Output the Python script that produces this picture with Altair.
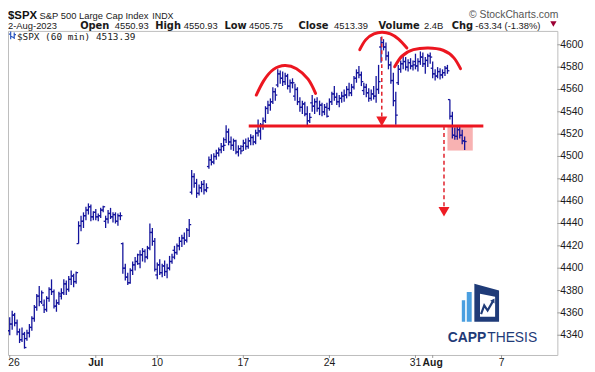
import altair as alt
import pandas as pd

# ---------------- data: $SPX hourly bars, 26-Jun-2023 .. 2-Aug-2023 ----------------
opens = [
    4344, 4350, 4358, 4351, 4343, 4336, 4341,   # Jun 26
    4337, 4342, 4347, 4355, 4365, 4375, 4370,   # Jun 27
    4367, 4363, 4373, 4381, 4379, 4366, 4369,   # Jun 28
    4375, 4378, 4386, 4381, 4390, 4393, 4388,   # Jun 29
    4422, 4438, 4442, 4447, 4452, 4455, 4446,   # Jun 30
    4450, 4446, 4447, 4452,                     # Jul 3
    4442, 4444, 4449, 4446, 4448, 4442, 4447,   # Jul 5
    4422, 4400, 4392, 4387, 4398, 4403, 4406,   # Jul 6
    4404, 4412, 4415, 4410, 4418, 4432, 4424,   # Jul 7
    4394, 4403, 4396, 4402, 4397, 4400, 4406,   # Jul 10
    4416, 4414, 4420, 4424, 4427, 4425, 4434,   # Jul 11
    4468, 4482, 4476, 4467, 4472, 4475, 4470,   # Jul 12
    4491, 4497, 4495, 4500, 4503, 4506, 4509,   # Jul 13
    4515, 4522, 4513, 4510, 4514, 4504, 4507,   # Jul 14
    4509, 4512, 4509, 4514, 4517, 4513, 4521,   # Jul 17
    4522, 4528, 4532, 4543, 4546, 4549, 4558,   # Jul 18
    4564, 4574, 4570, 4567, 4572, 4563, 4566,   # Jul 19
    4554, 4560, 4549, 4544, 4547, 4538, 4532,   # Jul 20
    4548, 4545, 4549, 4543, 4546, 4540, 4544,   # Jul 21
    4543, 4549, 4556, 4553, 4549, 4552, 4554,   # Jul 24
    4555, 4560, 4557, 4562, 4570, 4575, 4573,   # Jul 25
    4559, 4562, 4557, 4552, 4556, 4554, 4560,   # Jul 26
    4598, 4602, 4598, 4590, 4582, 4568, 4550,   # Jul 27
    4566, 4578, 4583, 4585, 4580, 4584, 4581,   # Jul 28
    4585, 4581, 4585, 4589, 4583, 4586, 4590,   # Jul 31
    4579, 4574, 4572, 4576, 4573, 4575, 4579,   # Aug 1
    4550.93, 4536, 4519, 4518, 4524, 4519, 4514,  # Aug 2
]
highs = [
    4356, 4362, 4360, 4354, 4346, 4347, 4343,
    4345, 4350, 4357, 4367, 4377, 4384, 4380,
    4372, 4375, 4383, 4390, 4381, 4372, 4379,
    4382, 4390, 4389, 4393, 4398, 4395, 4397,
    4442, 4447, 4450, 4455, 4458, 4457, 4451,
    4453, 4449, 4454, 4456,
    4447, 4452, 4454, 4450, 4450, 4449, 4450,
    4423, 4404, 4396, 4400, 4406, 4410, 4413,
    4416, 4418, 4417, 4420, 4440, 4436, 4427,
    4405, 4408, 4404, 4407, 4404, 4411, 4413,
    4420, 4422, 4428, 4430, 4432, 4436, 4444,
    4488, 4485, 4480, 4475, 4478, 4479, 4476,
    4500, 4502, 4503, 4506, 4508, 4512, 4517,
    4528, 4525, 4518, 4516, 4515, 4510, 4510,
    4515, 4516, 4517, 4520, 4519, 4524, 4533,
    4530, 4535, 4545, 4550, 4552, 4562, 4561,
    4578, 4577, 4576, 4575, 4574, 4569, 4570,
    4565, 4562, 4553, 4550, 4549, 4545, 4539,
    4555, 4552, 4553, 4550, 4548, 4547, 4548,
    4552, 4558, 4563, 4557, 4555, 4558, 4560,
    4563, 4566, 4565, 4572, 4578, 4581, 4576,
    4566, 4565, 4561, 4560, 4563, 4572, 4582,
    4607, 4605, 4602, 4594, 4585, 4575, 4558,
    4582, 4586, 4590, 4589, 4587, 4588, 4586,
    4592, 4588, 4594, 4593, 4589, 4592, 4593,
    4585, 4578, 4580, 4579, 4578, 4581, 4582,
    4550.93, 4540, 4526, 4528, 4527, 4524, 4518,
]
lows = [
    4340, 4345, 4348, 4340, 4333, 4334, 4328,
    4335, 4338, 4344, 4352, 4362, 4366, 4368,
    4360, 4361, 4370, 4376, 4364, 4361, 4367,
    4372, 4376, 4376, 4379, 4385, 4383, 4386,
    4422, 4433, 4436, 4443, 4448, 4442, 4443,
    4443, 4442, 4445, 4450,
    4436, 4440, 4444, 4441, 4440, 4438, 4443,
    4395, 4389, 4385, 4386, 4394, 4398, 4403,
    4400, 4406, 4405, 4408, 4416, 4420, 4397,
    4390, 4394, 4392, 4393, 4391, 4398, 4404,
    4408, 4412, 4416, 4419, 4421, 4423, 4428,
    4466, 4472, 4463, 4465, 4468, 4466, 4468,
    4489, 4492, 4493, 4497, 4500, 4503, 4505,
    4512, 4510, 4506, 4505, 4502, 4500, 4502,
    4505, 4506, 4507, 4510, 4510, 4511, 4518,
    4515, 4524, 4530, 4538, 4541, 4547, 4550,
    4562, 4565, 4563, 4564, 4560, 4557, 4561,
    4550, 4546, 4540, 4538, 4536, 4528, 4530,
    4540, 4538, 4540, 4537, 4536, 4537, 4535,
    4541, 4546, 4550, 4546, 4544, 4548, 4549,
    4552, 4554, 4554, 4560, 4566, 4570, 4563,
    4555, 4553, 4549, 4550, 4551, 4548, 4556,
    4584, 4595, 4586, 4578, 4565, 4545, 4528.5,
    4564, 4575, 4578, 4577, 4576, 4578, 4577,
    4578, 4576, 4582, 4580, 4574, 4580, 4583,
    4570, 4568, 4570, 4569, 4570, 4572, 4574,
    4533, 4516, 4515, 4515, 4516, 4511, 4505.75,
]
closes = [
    4350, 4358, 4351, 4343, 4336, 4341, 4329,
    4342, 4347, 4355, 4365, 4375, 4370, 4378,
    4363, 4373, 4381, 4379, 4366, 4369, 4377,
    4378, 4386, 4381, 4390, 4393, 4388, 4396,
    4438, 4442, 4447, 4452, 4455, 4446, 4450,
    4446, 4447, 4452, 4455,
    4444, 4449, 4446, 4448, 4442, 4447, 4447,
    4400, 4392, 4387, 4398, 4403, 4406, 4412,
    4412, 4415, 4410, 4418, 4432, 4424, 4399,
    4403, 4396, 4402, 4397, 4400, 4406, 4410,
    4414, 4420, 4424, 4427, 4425, 4434, 4439,
    4482, 4476, 4467, 4472, 4475, 4470, 4472,
    4497, 4495, 4500, 4503, 4506, 4509, 4510,
    4522, 4513, 4510, 4514, 4504, 4507, 4505,
    4512, 4509, 4514, 4517, 4513, 4521, 4523,
    4528, 4532, 4543, 4546, 4549, 4558, 4555,
    4574, 4570, 4567, 4572, 4563, 4566, 4566,
    4560, 4549, 4544, 4547, 4538, 4532, 4535,
    4545, 4549, 4543, 4546, 4540, 4544, 4536,
    4549, 4556, 4553, 4549, 4552, 4554, 4555,
    4560, 4557, 4562, 4570, 4575, 4573, 4567,
    4562, 4557, 4552, 4556, 4554, 4560, 4567,
    4602, 4598, 4590, 4582, 4568, 4550, 4537,
    4578, 4583, 4585, 4580, 4584, 4581, 4582,
    4581, 4585, 4589, 4583, 4586, 4590, 4589,
    4574, 4572, 4576, 4573, 4575, 4579, 4576.73,
    4536, 4519, 4518, 4524, 4519, 4514, 4513.39,
]
volume_text = "2.4B"

# x axis: bar index of each labelled session start
tick_bars = [0, 35, 60, 95, 130, 165, 172, 200]
tick_labels = ["26", "Jul", "10", "17", "24", "31", "Aug", "7"]
month_labels = ["Jul", "Aug"]
price_ticks = list(range(4340, 4601, 20))

# annotations (bar index / price)
neck_level = 4527.2
neck_span = [97.2, 192.6]
ls_x = [100.27, 103.25, 107.27, 111.92, 116.62, 121.33, 124.38]
ls_y = [4555.0, 4567.7, 4578.0, 4581.5, 4578.6, 4569.2, 4556.5]
hd_x = [142.34, 144.75, 148.09, 151.46, 154.8, 158.13, 161.51]
hd_y = [4595.6, 4604.4, 4609.7, 4611.2, 4609.7, 4605.0, 4597.1]
rs_x = [156.53, 159.5, 164.16, 170.19, 176.21, 180.63, 183.32]
rs_y = [4580.3, 4589.8, 4595.6, 4597.1, 4595.1, 4588.3, 4578.6]
arrow_x = [151.3, 176.6]
arrow_top = [4607.4, 4527.2]
arrow_tip = [4527.2, 4446.4]
zone_x = [178.0, 188.3]
zone_y = [4505.3, 4526.6]

# ---------------- styling ----------------
NAVY = "#14149c"
RED = "#ec1620"
INK = "#1a1a1a"
SANS = "Liberation Sans"
W, H = 556, 328

xs = alt.Scale(domain=[-0.7, 222.7], nice=False, zero=False)
ys = alt.Scale(domain=[4322.3, 4612.4], nice=False, zero=False)

n = len(closes)
bars = pd.DataFrame({"i": list(range(n)), "open": opens, "high": highs,
                     "low": lows, "close": closes})
bars["il"] = bars["i"] - 0.8
bars["ir"] = bars["i"] + 0.8

layers = []

# pink breakdown zone
zone = pd.DataFrame({"x0": [zone_x[0]], "x1": [zone_x[1]], "y0": [zone_y[0]], "y1": [zone_y[1]]})
layers.append(alt.Chart(zone).mark_rect(color="#f8b2b2").encode(
    x=alt.X("x0:Q", scale=xs, axis=None), x2="x1:Q",
    y=alt.Y("y0:Q", scale=ys, axis=None), y2="y1:Q"))

# OHLC bars
base = alt.Chart(bars)
layers.append(base.mark_rule(color=NAVY, strokeWidth=1.3).encode(
    x=alt.X("i:Q", scale=xs, axis=None),
    y=alt.Y("low:Q", scale=ys, axis=None), y2="high:Q"))
layers.append(base.mark_rule(color=NAVY, strokeWidth=1.3).encode(
    x=alt.X("il:Q", scale=xs, axis=None), x2="i:Q",
    y=alt.Y("open:Q", scale=ys, axis=None)))
layers.append(base.mark_rule(color=NAVY, strokeWidth=1.3).encode(
    x=alt.X("i:Q", scale=xs, axis=None), x2="ir:Q",
    y=alt.Y("close:Q", scale=ys, axis=None)))

# neckline
neck = pd.DataFrame({"x0": [neck_span[0]], "x1": [neck_span[1]], "y": [neck_level]})
layers.append(alt.Chart(neck).mark_rule(color=RED, strokeWidth=3).encode(
    x=alt.X("x0:Q", scale=xs, axis=None), x2="x1:Q",
    y=alt.Y("y:Q", scale=ys, axis=None)))

# head & shoulders arcs
arcs = pd.DataFrame({
    "arc": ["ls"] * len(ls_x) + ["hd"] * len(hd_x) + ["rs"] * len(rs_x),
    "x": ls_x + hd_x + rs_x,
    "y": ls_y + hd_y + rs_y,
})
layers.append(alt.Chart(arcs).mark_line(color=RED, strokeWidth=3, interpolate="natural",
                                         strokeCap="round").encode(
    x=alt.X("x:Q", scale=xs, axis=None), y=alt.Y("y:Q", scale=ys, axis=None), detail="arc:N"))

# dashed measured-move arrows
tri_h = 8.4   # price units of the arrow head height
arrows = pd.DataFrame({"x": arrow_x, "top": arrow_top,
                       "bot": [t + tri_h for t in arrow_tip],
                       "head": [t + tri_h / 2 for t in arrow_tip]})
layers.append(alt.Chart(arrows).mark_rule(color="#e0202a", strokeWidth=1.5, strokeDash=[4, 3]).encode(
    x=alt.X("x:Q", scale=xs, axis=None), y=alt.Y("top:Q", scale=ys, axis=None), y2="bot:Q"))
layers.append(alt.Chart(arrows).mark_point(shape="triangle-down", filled=True, size=125,
                                           color="#ee1c24", opacity=1).encode(
    x=alt.X("x:Q", scale=xs, axis=None), y=alt.Y("head:Q", scale=ys, axis=None)))

# ---- axes drawn from the tick arrays ----
ydf = pd.DataFrame({"p": price_ticks, "t": [str(p) for p in price_ticks]})
layers.append(alt.Chart(ydf).mark_rule(color="#9a9a9a", strokeWidth=1).encode(
    x=alt.value(W), x2=alt.value(W + 3), y=alt.Y("p:Q", scale=ys, axis=None)))
layers.append(alt.Chart(ydf).mark_text(align="left", baseline="middle", font=SANS,
                                       fontSize=10.5, color=INK).encode(
    x=alt.value(W + 3), y=alt.Y("p:Q", scale=ys, axis=None), text="t:N"))

xdf = pd.DataFrame({"b": tick_bars, "t": tick_labels,
                    "m": [t in month_labels for t in tick_labels],
                    "first": [k == 0 for k in range(len(tick_bars))]})
layers.append(alt.Chart(xdf).mark_rule(color="#9a9a9a", strokeWidth=1).encode(
    x=alt.X("b:Q", scale=xs, axis=None), y=alt.value(H), y2=alt.value(H + 3)))
layers.append(alt.Chart(xdf).transform_filter("!datum.m && !datum.first").mark_text(
    align="center", baseline="alphabetic", font=SANS, fontSize=10.5, color=INK).encode(
    x=alt.X("b:Q", scale=xs, axis=None), y=alt.value(H + 11.5), text="t:N"))
layers.append(alt.Chart(xdf).transform_filter("datum.first").mark_text(
    align="left", dx=-1.5, baseline="alphabetic", font=SANS, fontSize=10.5, color=INK).encode(
    x=alt.X("b:Q", scale=xs, axis=None), y=alt.value(H + 11.5), text="t:N"))
layers.append(alt.Chart(xdf).transform_filter("datum.m").mark_text(
    align="center", baseline="alphabetic", font=SANS, fontSize=10.5, fontWeight="bold",
    color=INK).encode(
    x=alt.X("b:Q", scale=xs, axis=None), y=alt.value(H + 11.5), text="t:N"))


def label(s, x, y, size=9.5, weight="normal", font=SANS, color=INK, align="left"):
    return alt.Chart(pd.DataFrame({"t": [s]})).mark_text(
        align=align, baseline="alphabetic", font=font, fontSize=size,
        fontWeight=weight, color=color).encode(text="t:N", x=alt.value(x), y=alt.value(y))


def glyph(path, x, y, size, color, filled=True, sw=1.0):
    if filled:
        mk = alt.Chart(pd.DataFrame({"k": [0]})).mark_point(
            shape=path, filled=True, size=size, color=color, opacity=1, strokeWidth=0)
    else:
        mk = alt.Chart(pd.DataFrame({"k": [0]})).mark_point(
            shape=path, filled=False, size=size, color=color, opacity=1, strokeWidth=sw,
            strokeJoin="miter")
    return mk.encode(x=alt.value(x), y=alt.value(y))


# header
d_open = opens[n - 7]
d_high = max(highs[n - 7:])
d_low = min(lows[n - 7:])
d_close = closes[-1]
prev_close = closes[n - 8]
chg = d_close - prev_close
pct = chg / prev_close * 100

BOLD = "DejaVu Sans"
layers += [
    label("$SPX", 0, -12, size=11.5, weight="bold", color="#111"),
    label("S&P 500 Large Cap Index", 32, -12, size=9.5),
    label("INDX", 146, -12, size=9),
    label("\u00a9 StockCharts.com", 557, -13, size=10.5, color="#555", align="right"),
    label("2-Aug-2023", 0, -2, size=9.5),
    label("Open", 73, -2, size=10, weight="bold", font=BOLD),
    label(f"{d_open:.2f}", 108, -2),
    label("High", 149, -2, size=10, weight="bold", font=BOLD),
    label(f"{d_high:.2f}", 178, -2),
    label("Low", 219, -2, size=10, weight="bold", font=BOLD),
    label(f"{d_low:.2f}", 244, -2),
    label("Close", 294, -2, size=10, weight="bold", font=BOLD),
    label(f"{d_close:.2f}", 330, -2),
    label("Volume", 375, -2, size=10, weight="bold", font=BOLD),
    label(volume_text, 421, -2),
    label("Chg", 449, -2, size=10, weight="bold", font=BOLD),
    label(f"{chg:.2f} ({pct:.2f}%)", 473, -2),
    glyph("triangle-down", 552, -7, 40, "#9c0034"),
    # in-plot legend line
    glyph("M-0.45,-1V1M-0.45,-0.3H-0.9M-0.45,0.3H0M0.45,-0.7V0.9M0.45,0.5H0M0.45,-0.2H0.9",
          4.5, 4.5, 64, "#2a55c0", filled=False, sw=1.2),
    label("$SPX (60 min) " + f"{d_close:.2f}", 9, 9, size=9.5, font="DejaVu Sans Mono"),
]

# CAPP THESIS logo
LOGO_NAVY = "#1f3b78"
LOGO_BLUE = "#4a9fe0"
LOGO_FONT = "Liberation Sans"
layers += [
    glyph("M-0.935,-0.115H-0.765V0.965H-0.935Z M-0.685,-0.535H-0.435V0.965H-0.685Z",
          478, 275, 1600, LOGO_BLUE),
    glyph("M-0.3,-0.95L0.95,-0.615L0.95,0.965L-0.3,0.965Z "
          "M-0.015,-0.45L-0.015,0.715L0.75,0.715L0.75,-0.3Z",
          478, 275, 1600, LOGO_NAVY),
    glyph("M0.04,0.58L0.2,0.14L0.37,0.4L0.62,-0.04", 478, 275, 1600, LOGO_NAVY,
          filled=False, sw=2.2),
    glyph("M0.72,-0.21L0.72,0.04L0.5,-0.1Z", 478, 275, 1600, LOGO_NAVY),
    label("CAPP", 484, 315, size=14, weight="bold", font=LOGO_FONT, color=LOGO_NAVY, align="right"),
    label("THESIS", 485, 315, size=14, font=LOGO_FONT, color=LOGO_NAVY),
]

chart = alt.layer(*layers).properties(
    width=W, height=H,
    padding={"left": 0, "top": 21, "right": 30, "bottom": 14},
    autosize=alt.AutoSizeParams(type="none"),
).configure_view(stroke="#bdbdbd", strokeWidth=1)

chart.save("out.html", embed_options={"renderer": "svg", "actions": False})
